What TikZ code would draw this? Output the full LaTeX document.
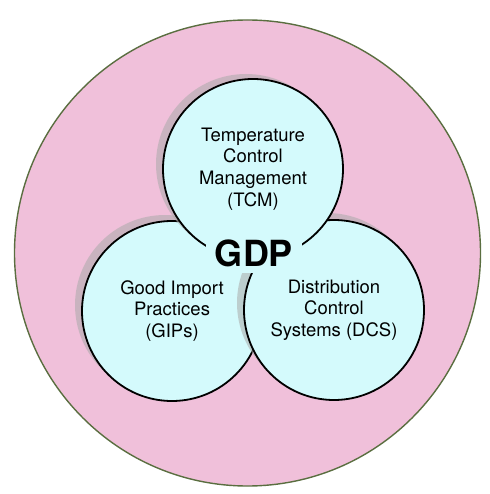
\documentclass[tikz,border=0pt]{standalone}
\usepackage{fontspec}
\setmainfont{TeX Gyre Heros}
\begin{document}
\begin{tikzpicture}[x=1pt,y=-1pt,
  outer/.style={circle,draw=outerline,line width=1.4pt,fill=outerpink,minimum size=466pt,inner sep=0pt},
  topic/.style={circle,draw=black,line width=1.8pt,fill=topiccyan,minimum size=180pt,inner sep=0pt},
  shade/.style={circle,fill=shadegray,fill opacity=0.55,minimum size=180pt,inner sep=0pt},
  label/.style={align=center,font=\fontsize{18.5}{21.7}\selectfont},
  core/.style={fill=topiccyan,font=\fontsize{36}{40}\selectfont\bfseries,minimum width=96pt,minimum height=40pt,inner sep=0pt}]
\definecolor{outerpink}{RGB}{240,192,218}
\definecolor{outerline}{RGB}{90,110,64}
\definecolor{topiccyan}{RGB}{212,250,252}
\definecolor{shadegray}{RGB}{170,170,170}
\useasboundingbox (0,0) rectangle (489,494);
\node[outer] (big) at (247.5,253) {};
\node[shade] (lsh) at (165,305) {};
\node[topic] (left) at (172,311) {};
\node[shade] (rsh) at (327,303) {};
\node[topic] (right) at (334,310) {};
\node[shade] (tsh) at (246,164) {};
\node[topic] (top) at (253,169) {};
\node[core] (gdp) at (254,253) {GDP};
\node[label] (ttxt) at (top) {Temperature\\Control\\Management\\(TCM)};
\node[label] (ltxt) at (left) {Good Import\\Practices\\(GIPs)};
\node[label] (rtxt) at (right) {Distribution\\Control\\Systems (DCS)};
\end{tikzpicture}
\end{document}
